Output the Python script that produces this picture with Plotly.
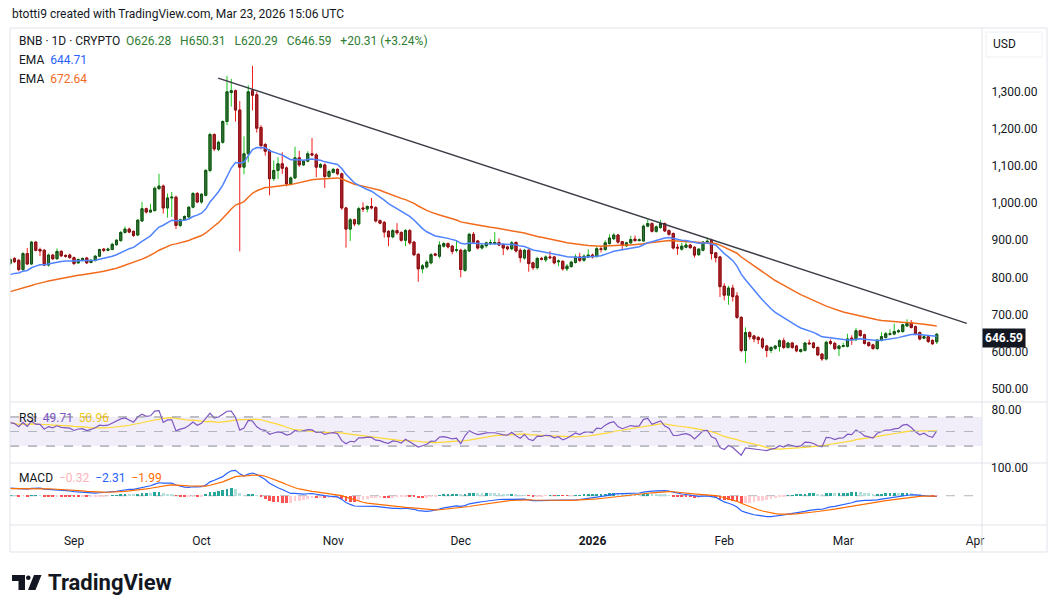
import numpy as np
import pandas as pd
import plotly.graph_objects as go

# ---------------- data (BNB daily) ----------------
opens = [838, 851, 846, 821, 864, 836, 895, 875, 873, 833,
         860, 850, 870, 859, 860, 853, 839, 846, 852, 840,
         845, 857, 876, 873, 875, 888, 899, 921, 930, 924,
         914, 952, 985, 976, 980, 1039, 1046, 987, 1014, 1016,
         940, 955, 963, 989, 1026, 1003, 1021, 1088, 1185, 1145,
         1164, 1220, 1298, 1303, 1251, 1097, 1133, 1303, 1292, 1204,
         1158, 1142, 1066, 1088, 1106, 1095, 1052, 1068, 1122, 1103,
         1113, 1133, 1130, 1097, 1103, 1072, 1083, 1091, 1079, 987,
         930, 955, 944, 987, 984, 991, 988, 953, 948, 924,
         909, 926, 921, 900, 926, 895, 862, 823, 828, 839,
         863, 857, 884, 891, 884, 873, 873, 819, 871, 916,
         898, 879, 885, 891, 891, 894, 888, 882, 877, 894,
         873, 852, 873, 839, 826, 851, 847, 855, 855, 842,
         843, 823, 829, 840, 855, 846, 855, 860, 856, 877,
         875, 891, 904, 914, 896, 885, 893, 903, 899, 898,
         938, 945, 924, 934, 945, 926, 918, 881, 876, 881,
         887, 881, 861, 873, 895, 900, 866, 855, 776, 752,
         771, 750, 692, 603, 651, 642, 638, 634, 615, 603,
         609, 614, 629, 611, 623, 615, 600, 603, 623, 623,
         611, 593, 580, 627, 622, 608, 614, 614, 636, 632,
         656, 645, 624, 618, 608, 630, 638, 646, 647, 653,
         654, 669, 678, 667, 651, 636, 640, 630, 626.28]
highs = [852, 854, 849, 868, 879, 898, 897, 880, 876, 864,
         863, 878, 873, 862, 864, 856, 851, 853, 855, 849,
         860, 877, 879, 880, 893, 903, 925, 937, 934, 926,
         957, 1003, 988, 998, 1045, 1079, 1050, 1026, 1030, 1020,
         958, 967, 992, 1030, 1030, 1027, 1092, 1190, 1188, 1168,
         1223, 1343, 1335, 1306, 1275, 1180, 1318, 1370, 1300, 1210,
         1162, 1146, 1115, 1124, 1137, 1099, 1072, 1152, 1141, 1116,
         1140, 1176, 1135, 1108, 1107, 1090, 1095, 1094, 1082, 990,
         960, 958, 990, 1002, 994, 1014, 992, 956, 952, 927,
         930, 946, 924, 930, 930, 898, 865, 836, 846, 866,
         866, 897, 895, 894, 887, 898, 877, 877, 920, 922,
         901, 890, 896, 902, 922, 905, 891, 885, 898, 897,
         878, 876, 876, 842, 855, 855, 859, 871, 858, 848,
         846, 836, 845, 862, 866, 862, 876, 864, 882, 884,
         900, 916, 919, 917, 898, 896, 912, 913, 905, 942,
         956, 948, 940, 955, 948, 929, 921, 890, 893, 900,
         890, 884, 879, 898, 907, 904, 868, 858, 784, 777,
         780, 760, 695, 665, 655, 645, 642, 638, 618, 614,
         617, 633, 637, 626, 626, 618, 608, 626, 632, 626,
         614, 596, 629, 633, 626, 618, 624, 648, 644, 664,
         659, 648, 627, 621, 634, 652, 653, 660, 675, 660,
         675, 687, 685, 670, 654, 644, 643, 633, 650.31]
lows = [833, 839, 816, 817, 833, 833, 870, 857, 830, 829,
        847, 848, 855, 853, 850, 834, 836, 843, 836, 838,
        843, 855, 868, 870, 873, 885, 896, 918, 919, 909,
        911, 949, 972, 974, 977, 1036, 972, 961, 963, 930,
        935, 952, 960, 986, 1000, 998, 1018, 1083, 1140, 1140,
        1160, 1210, 1260, 1220, 870, 1078, 1110, 1250, 1190, 1145,
        1128, 1021, 1060, 1065, 1079, 1045, 1048, 1065, 1098, 1100,
        1110, 1126, 1070, 1094, 1041, 1068, 1080, 1075, 982, 880,
        898, 938, 940, 976, 975, 983, 948, 943, 907, 884,
        905, 915, 896, 884, 888, 857, 788, 811, 824, 835,
        857, 851, 880, 878, 862, 867, 800, 815, 868, 891,
        875, 875, 880, 887, 888, 884, 860, 873, 873, 867,
        840, 848, 815, 820, 821, 846, 841, 849, 835, 830,
        818, 817, 826, 837, 841, 842, 852, 851, 853, 867,
        871, 888, 900, 891, 873, 882, 890, 896, 897, 896,
        935, 921, 920, 931, 922, 912, 875, 861, 872, 878,
        877, 853, 858, 870, 892, 848, 840, 747, 738, 726,
        735, 688, 598, 569, 632, 625, 620, 607, 585, 596,
        605, 600, 607, 608, 607, 598, 597, 600, 619, 608,
        588, 575, 576, 618, 604, 588, 611, 611, 618, 628,
        640, 619, 613, 605, 605, 627, 635, 643, 644, 650,
        650, 666, 662, 644, 630, 633, 623, 618, 620.29]
closes = [848, 842, 821, 864, 836, 895, 873, 871, 833, 860,
          850, 870, 858, 857, 853, 837, 848, 851, 839, 846,
          857, 875, 873, 876, 889, 900, 921, 930, 922, 913,
          954, 985, 976, 981, 1040, 1046, 987, 1014, 1016, 940,
          955, 964, 989, 1026, 1003, 1024, 1088, 1185, 1146, 1164,
          1220, 1300, 1303, 1251, 1097, 1133, 1300, 1291, 1202, 1155,
          1140, 1066, 1088, 1106, 1094, 1052, 1068, 1122, 1103, 1113,
          1133, 1130, 1097, 1104, 1072, 1085, 1091, 1079, 987, 930,
          955, 944, 985, 984, 991, 987, 952, 946, 922, 909,
          926, 920, 900, 926, 893, 861, 823, 831, 841, 861,
          860, 887, 891, 882, 870, 874, 821, 873, 916, 895,
          879, 886, 893, 894, 894, 887, 879, 877, 893, 871,
          853, 873, 837, 826, 851, 849, 855, 853, 839, 844,
          823, 830, 841, 855, 846, 857, 860, 855, 877, 875,
          893, 906, 914, 895, 886, 893, 902, 899, 901, 938,
          945, 924, 936, 945, 925, 916, 879, 879, 884, 887,
          880, 860, 876, 895, 897, 864, 853, 775, 752, 771,
          748, 692, 603, 651, 640, 634, 632, 612, 603, 611,
          615, 629, 611, 623, 611, 602, 605, 623, 621, 611,
          591, 580, 625, 622, 608, 615, 616, 634, 632, 656,
          643, 622, 616, 608, 631, 640, 648, 648, 654, 656,
          672, 676, 665, 648, 634, 640, 627, 621, 646.59]
first_date = "2025-08-17"

# indicator warm-up state (values of the indicators just before the first visible bar)
ema20_seed, ema50_seed = 803.0, 758.0
ema12_seed, ema26_seed, signal_seed = 822.0, 796.0, 24.0
rsi_prev_close, rsi_avg_gain_seed, rsi_avg_loss_seed = 838.0, 14.0, 9.0

# trend line drawing (two anchor points)
trend_dates = ["2025-10-04 22:00", "2026-03-30 02:00"]
trend_prices = [1337, 676]

# axis labels
price_ticks = [500, 600, 700, 800, 900, 1000, 1100, 1200, 1300]
month_ticks = ["2025-09-01", "2025-10-01", "2025-11-01", "2025-12-01",
               "2026-01-01", "2026-02-01", "2026-03-01", "2026-04-01"]
month_labels = ["Sep", "Oct", "Nov", "Dec", "<b>2026</b>", "Feb", "Mar", "Apr"]

# ---------------- computation ----------------
o = np.array(opens, float); h = np.array(highs, float)
l = np.array(lows, float); c = np.array(closes, float)
n = len(c)
assert len(o) == len(h) == len(l) == n
dates = pd.date_range(first_date, periods=n, freq="D")


def ema(values, span, seed):
    a = 2.0 / (span + 1)
    out, prev = [], seed
    for v in values:
        prev = a * v + (1 - a) * prev
        out.append(prev)
    return np.array(out)


def rsi(values, prev, g0, l0, period=14):
    ag, al, out = g0, l0, []
    for v in values:
        d = v - prev
        ag = (ag * (period - 1) + max(d, 0)) / period
        al = (al * (period - 1) + max(-d, 0)) / period
        out.append(100 - 100 / (1 + ag / al))
        prev = v
    return np.array(out)


ema20 = ema(c, 20, ema20_seed)
ema50 = ema(c, 50, ema50_seed)
macd = ema(c, 12, ema12_seed) - ema(c, 26, ema26_seed)
signal = ema(macd, 9, signal_seed)
hist = macd - signal
rsi_v = rsi(c, rsi_prev_close, rsi_avg_gain_seed, rsi_avg_loss_seed)
rsi_ma = pd.Series(rsi_v).rolling(14, min_periods=1).mean().values

hist_colors = []
for i, v in enumerate(hist):
    pv = hist[i - 1] if i > 0 else v
    if v >= 0:
        hist_colors.append("#26A69A" if v >= pv else "#B2DFDB")
    else:
        hist_colors.append("#FF5252" if v < pv else "#FFCDD2")

# ---------------- figure ----------------
W, H = 1057, 613
ML, MR, MT, MB = 10, 75, 28, 88
PW, PH = W - ML - MR, H - MT - MB


def px(xp):
    return (xp - ML) / PW


def py(yp):
    return (H - MB - yp) / PH


fig = go.Figure()
UP_WICK, UP_BODY, UP_EDGE = "#1DC41D", "#2E7D32", "#1B4A1E"
DN_WICK, DN_BODY, DN_EDGE = "#F21D1D", "#B7232A", "#7C1419"

fig.add_trace(go.Candlestick(
    x=dates, open=o, high=h, low=l, close=c, xaxis="x", yaxis="y",
    increasing=dict(line=dict(color=UP_WICK, width=1), fillcolor=UP_BODY),
    decreasing=dict(line=dict(color=DN_WICK, width=1), fillcolor=DN_BODY),
    whiskerwidth=0, showlegend=False, hoverinfo="skip"))
fig.add_trace(go.Candlestick(
    x=dates, open=o, high=np.maximum(o, c), low=np.minimum(o, c), close=c,
    xaxis="x", yaxis="y",
    increasing=dict(line=dict(color=UP_EDGE, width=1), fillcolor=UP_BODY),
    decreasing=dict(line=dict(color=DN_EDGE, width=1), fillcolor=DN_BODY),
    whiskerwidth=0, showlegend=False, hoverinfo="skip"))
fig.add_trace(go.Scatter(x=dates, y=ema50, mode="lines", line=dict(color="#F26B1D", width=1.5),
                         xaxis="x", yaxis="y", showlegend=False, hoverinfo="skip"))
fig.add_trace(go.Scatter(x=dates, y=ema20, mode="lines", line=dict(color="#4F83FF", width=1.5),
                         xaxis="x", yaxis="y", showlegend=False, hoverinfo="skip"))
fig.add_trace(go.Scatter(x=pd.to_datetime(trend_dates), y=trend_prices, mode="lines",
                         line=dict(color="#3A3D47", width=1.5),
                         xaxis="x", yaxis="y", showlegend=False, hoverinfo="skip"))

# RSI
fig.add_trace(go.Scatter(x=dates, y=rsi_ma, mode="lines", line=dict(color="#FDD835", width=1.2),
                         xaxis="x2", yaxis="y2", showlegend=False, hoverinfo="skip"))
fig.add_trace(go.Scatter(x=dates, y=rsi_v, mode="lines", line=dict(color="#7E57C2", width=1.2),
                         xaxis="x2", yaxis="y2", showlegend=False, hoverinfo="skip"))

# MACD
fig.add_trace(go.Bar(x=dates, y=hist, marker=dict(color=hist_colors, line=dict(width=0)),
                     width=0.6 * 86400000, xaxis="x3", yaxis="y3", showlegend=False, hoverinfo="skip"))
fig.add_trace(go.Scatter(x=dates, y=macd, mode="lines", line=dict(color="#2962FF", width=1.2),
                         xaxis="x3", yaxis="y3", showlegend=False, hoverinfo="skip"))
fig.add_trace(go.Scatter(x=dates, y=signal, mode="lines", line=dict(color="#FF6D00", width=1.2),
                         xaxis="x3", yaxis="y3", showlegend=False, hoverinfo="skip"))

xr = ["2025-08-16 22:34", "2026-04-02 15:36"]
TXT = "#131722"
FONT = "Roboto"
common_x = dict(range=xr, showgrid=False, zeroline=False, showline=False, fixedrange=True)
d_main = [py(402), 1]
d_rsi = [py(463), py(402)]
d_macd = [0, py(463)]
right_y = dict(side="right", showgrid=False, zeroline=False, showline=False, ticks="outside",
               ticklen=6, tickcolor="rgba(0,0,0,0)", tickfont=dict(size=12, color=TXT, family=FONT),
               fixedrange=True)

fig.update_layout(
    width=W, height=H, margin=dict(l=ML, r=MR, t=MT, b=MB),
    paper_bgcolor="white", plot_bgcolor="white", bargap=0,
    font=dict(family=FONT, color=TXT),
    xaxis=dict(anchor="y", showticklabels=False, rangeslider=dict(visible=False), **common_x),
    xaxis2=dict(anchor="y2", matches="x", showticklabels=False, **common_x),
    xaxis3=dict(anchor="y3", matches="x", tickvals=pd.to_datetime(month_ticks), ticktext=month_labels,
                ticks="outside", ticklen=5, tickcolor="rgba(0,0,0,0)",
                tickfont=dict(size=12, color=TXT, family=FONT), **common_x),
    yaxis=dict(domain=d_main, range=[464, 1472], tickvals=price_ticks, tickformat=",.2f", **right_y),
    yaxis2=dict(domain=d_rsi, range=[6.8, 90.5], tickvals=[80], tickformat=".2f", **right_y),
    yaxis3=dict(domain=d_macd, range=[-102, 114], tickvals=[], **right_y),
)

shapes = []
GRID = "#E0E3EB"
# RSI band and levels
shapes.append(dict(type="rect", xref="x2 domain", yref="y2", x0=0, x1=1, y0=30, y1=70,
                   fillcolor="rgba(126,87,194,0.10)", line=dict(width=0), layer="below"))
for lv in (70, 50, 30):
    shapes.append(dict(type="line", xref="x2 domain", yref="y2", x0=0, x1=1, y0=lv, y1=lv,
                       line=dict(color="#868993" if lv != 50 else "#B2B5BE", width=1, dash="dash")))
shapes.append(dict(type="line", xref="x3 domain", yref="y3", x0=0, x1=1, y0=0, y1=0,
                   line=dict(color="#B2B5BE", width=1, dash="dash"), layer="below"))
# frame & separators
shapes.append(dict(type="rect", xref="paper", yref="paper", x0=px(10), x1=px(1047), y0=py(552), y1=py(28),
                   line=dict(color=GRID, width=1)))
shapes.append(dict(type="line", xref="paper", yref="paper", x0=px(982), x1=px(982), y0=py(552), y1=py(28),
                   line=dict(color=GRID, width=1)))
for yy in (402, 463, 525):
    shapes.append(dict(type="line", xref="paper", yref="paper", x0=px(10), x1=px(1047), y0=py(yy), y1=py(yy),
                       line=dict(color=GRID, width=1)))
# USD button
shapes.append(dict(type="rect", xref="paper", yref="paper", x0=px(986), x1=px(1042), y0=py(57), y1=py(32),
                   line=dict(color="#EEF0F3", width=1), fillcolor="white"))
# TradingView logo mark
def path(pts):
    return "M " + " L ".join(f"{px(a):.5f},{py(b):.5f}" for a, b in pts) + " Z"
shapes.append(dict(type="path", xref="paper", yref="paper", fillcolor=TXT, line=dict(width=0),
                   path=path([(12, 575), (25, 575), (25, 590), (18.5, 590), (18.5, 581), (12, 581)])))
shapes.append(dict(type="circle", xref="paper", yref="paper", fillcolor=TXT, line=dict(width=0),
                   x0=px(26), x1=px(30.6), y0=py(580), y1=py(575.4)))
shapes.append(dict(type="path", xref="paper", yref="paper", fillcolor=TXT, line=dict(width=0),
                   path=path([(34, 575), (41.5, 575), (35.5, 590), (28, 590)])))

anns = []


def txt(x, y, s, size=12, color=TXT, anchor="left", **kw):
    anns.append(dict(xref="paper", yref="paper", x=px(x), y=py(y), text=s, showarrow=False,
                     xanchor=anchor, yanchor="middle", font=dict(size=size, color=color, family=FONT), **kw))


SP = "&nbsp;&nbsp;"
SP3 = "&nbsp;&nbsp;&nbsp;"
txt(10, 14, "btotti9 created with TradingView.com, Mar 23, 2026 15:06 UTC", size=12)
txt(17, 41, "BNB · 1D · CRYPTO", size=12)
txt(124, 41, SP3.join(["O626.28", "H650.31", "L620.29", "C646.59", "+20.31&nbsp;(+3.24%)"]),
    size=12, color="#2E7D32")
txt(17, 60, "EMA" + SP + "<span style='color:#2962FF'>644.71</span>", size=12)
txt(17, 79, "EMA" + SP + "<span style='color:#F06A24'>672.64</span>", size=12)
txt(17, 418, "RSI" + SP + "<span style='color:#7E57C2'>49.71</span>" + SP +
    "<span style='color:#F2C80F'>50.96</span>", size=12)
txt(17, 478, "MACD" + SP + "<span style='color:#FFB3BA'>−0.32</span>" + SP +
    "<span style='color:#2962FF'>−2.31</span>" + SP + "<span style='color:#FF6D00'>−1.99</span>", size=12)
txt(991, 44, "USD", size=12)
txt(989, 468, "100.00", size=12)
txt(46, 582, "<b>TradingView</b>", size=22)
# last price label on the price scale
anns.append(dict(xref="paper", yref="y", x=px(982), y=c[-1], text=f"<b>{c[-1]:.2f}</b>", showarrow=False,
                 xanchor="left", yanchor="middle", yshift=-4, bgcolor=TXT, borderpad=2,
                 font=dict(size=12, color="white", family=FONT)))

fig.update_layout(shapes=shapes, annotations=anns)

fig.write_html("out.html", config={"displayModeBar": False},
               post_script="document.body.style.margin='0';document.body.style.overflow='hidden';")
